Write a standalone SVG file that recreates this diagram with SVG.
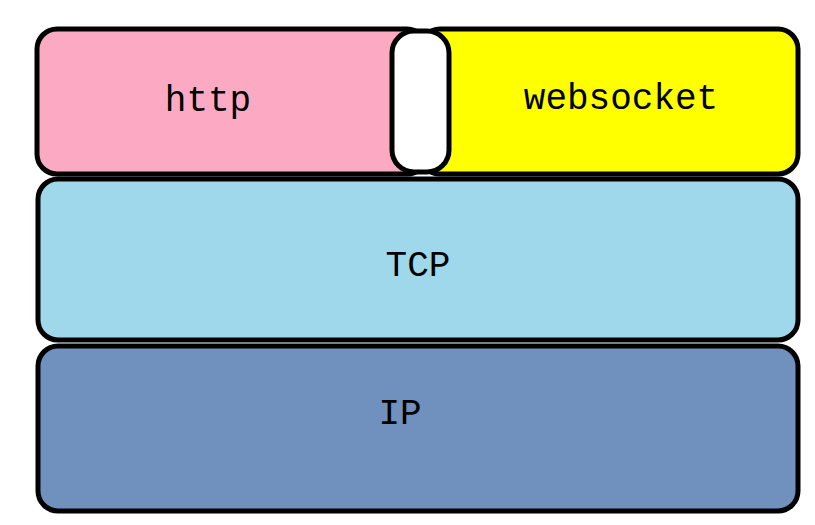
<svg xmlns="http://www.w3.org/2000/svg" width="815" height="525" viewBox="0 0 815 525">
<style>
.b{stroke:#000;stroke-width:5}
.t{font-family:"Liberation Mono","DejaVu Sans Mono",monospace;font-size:36px;fill:#000;text-anchor:middle}
</style>
<rect width="815" height="525" fill="#fff"/>
<g id="http"><rect class="b" x="37" y="29" width="390" height="145" rx="20" fill="#fcaac3"/><text class="t" x="208" y="111">http</text></g>
<g id="websocket"><rect class="b" x="420" y="29" width="378" height="145" rx="20" fill="#ffff00"/><text class="t" x="621" y="109">websocket</text></g>
<g id="gap"><rect class="b" x="392" y="31" width="57" height="141" rx="22" fill="#fff"/></g>
<g id="tcp"><rect class="b" x="38" y="179" width="760" height="161" rx="20" fill="#9ed8ea"/><text class="t" x="418" y="276">TCP</text></g>
<g id="ip"><rect class="b" x="38" y="346" width="760" height="165" rx="20" fill="#7090be"/><text class="t" x="400" y="424">IP</text></g>
<g id="connectors"/>
</svg>
